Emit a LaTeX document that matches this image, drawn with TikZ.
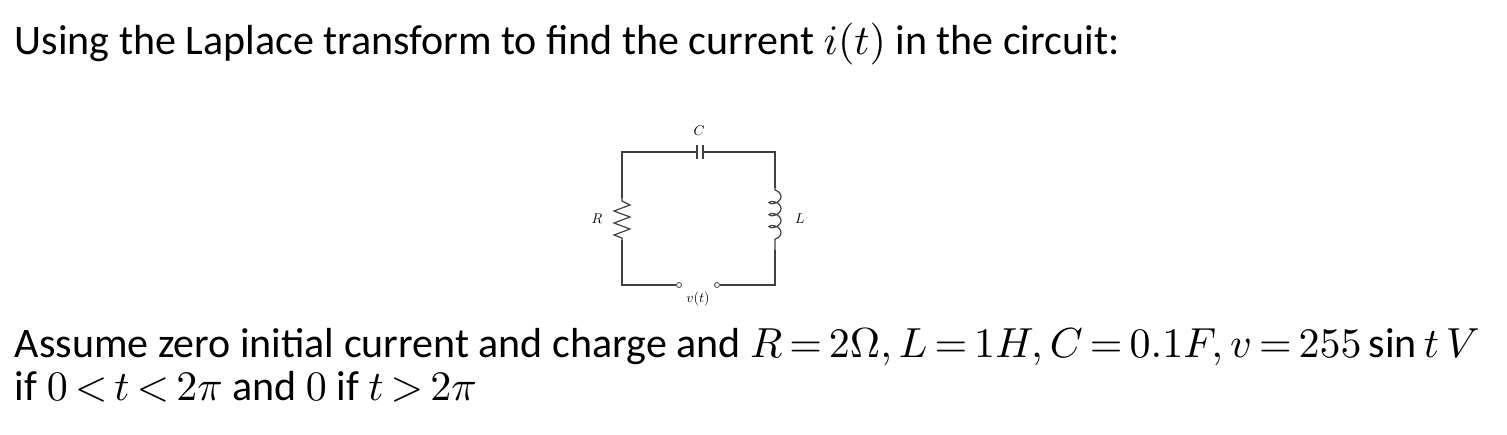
\documentclass[tikz,border=0pt]{standalone}
\usepackage{fontspec}
\setmainfont{Carlito}
\usetikzlibrary{decorations.pathmorphing}
\begin{document}
\thickmuskip=3mu plus 1mu\medmuskip=2mu
\begin{tikzpicture}[x=1pt,y=-1pt,
  wire/.style={draw=black!75,line width=1.2pt},
  txt/.style={anchor=base west,inner sep=0pt,scale=4.2},
  lab/.style={inner sep=0pt,scale=1.4}]
\useasboundingbox (0,0) rectangle (1507,435);
\node[txt] (t1) at (14,55) {Using the Laplace transform to find the current $i(t)$ in the circuit:};
\node[txt] (t2) at (14,358) {Assume zero initial current and charge and $R=2\Omega,L=1H,C=0.1F,v=255\sin t\,V$};
\node[txt] (t3) at (14,400) {if $0<t<2\pi$ and $0$ if $t>2\pi$};
% circuit
\coordinate (tl) at (622,152); \coordinate (tr) at (775,152);
\coordinate (bl) at (622,285); \coordinate (br) at (775,285);
\coordinate (c1) at (697,152); \coordinate (c2) at (703,152);
\coordinate (r1) at (622,198); \coordinate (r2) at (622,240);
\coordinate (l1) at (775,188); \coordinate (l2) at (775,250);
\node[circle,draw=black!75,line width=0.8pt,fill=white,inner sep=0pt,minimum size=5pt] (p1) at (679,285) {};
\node[circle,draw=black!75,line width=0.8pt,fill=white,inner sep=0pt,minimum size=5pt] (p2) at (717,285) {};
\draw[wire] (c1) -- (tl) -- (r1);
\draw[wire] (r2) -- (bl) -- (p1);
\draw[wire] (p2) -- (br) -- (l2);
\draw[wire] (l1) -- (tr) -- (c2);
\draw[wire] (c1)+(0,-7) -- +(0,7);
\draw[wire] (c2)+(0,-7) -- +(0,7);
\draw[wire] (r1) -- (622,201) -- (630,205) -- (614,211) -- (630,217) -- (614,223) -- (630,229) -- (614,235) -- (622,238) -- (r2);
\draw[wire,decorate,decoration={coil,aspect=0.6,segment length=12pt,amplitude=6pt,pre length=2pt,post length=2pt}] (l1) -- (l2);
\node[lab] (lc) at (699,131) {$C$};
\node[lab] (lr) at (597,219) {$R$};
\node[lab] (ll) at (800,219) {$L$};
\node[lab] (lv) at (698,299) {$v(t)$};
\end{tikzpicture}
\end{document}
